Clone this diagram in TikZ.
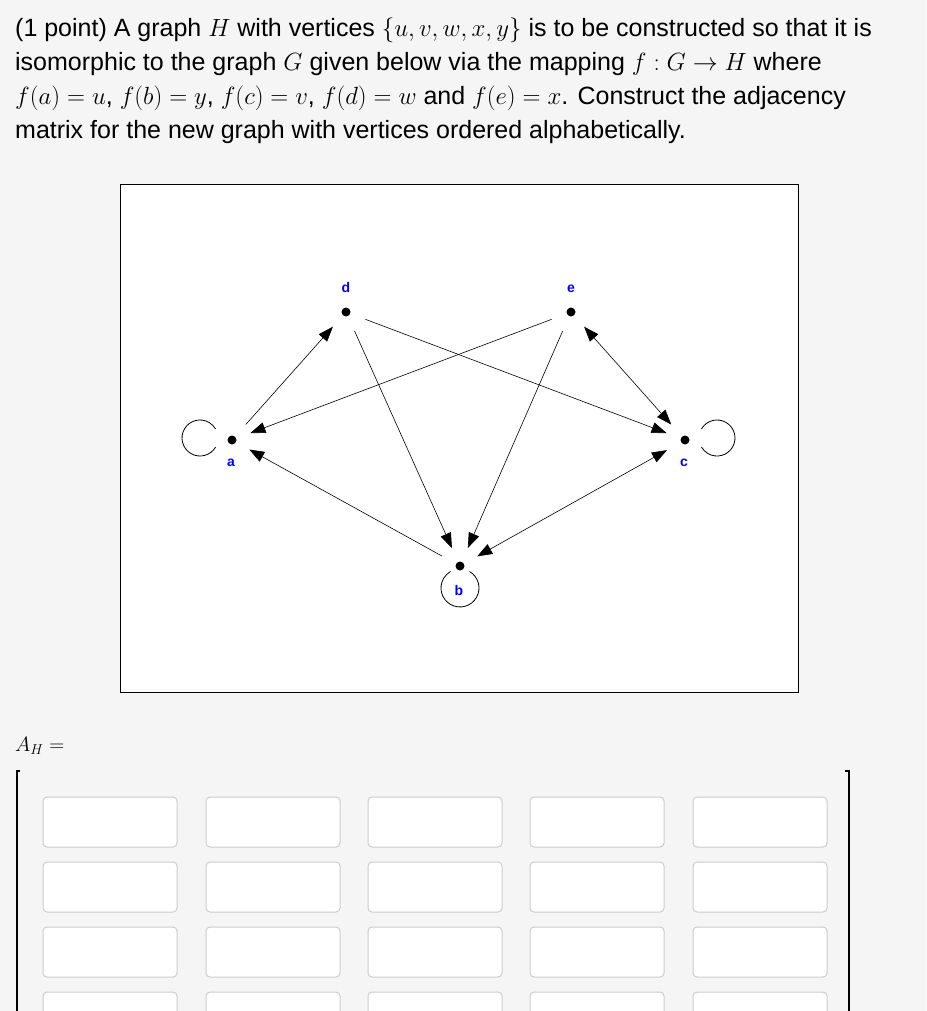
\documentclass[tikz,border=0pt]{standalone}
\usepackage{fontspec}
\setmainfont{Liberation Sans}
\usetikzlibrary{arrows.meta}
\begin{document}
\begin{tikzpicture}[x=1pt,y=-1pt,
  vtx/.style={circle,fill=black,inner sep=0pt,minimum size=9pt},
  lbl/.style={text=blue,font=\fontsize{14}{15}\selectfont\bfseries},
  edge/.style={draw,line width=0.6pt,-{Triangle[length=15pt,width=11pt]},shorten >=15pt,shorten <=16pt},
  both/.style={edge,{Triangle[length=15pt,width=11pt]}-{Triangle[length=15pt,width=11pt]}},
  txt/.style={anchor=west,inner sep=0pt,font=\fontsize{25}{28}\selectfont},
  cell/.style={draw=black!20,fill=white,rounded corners=4pt,line width=1pt,minimum width=134pt,minimum height=50pt,inner sep=0pt}]
\fill[black!4] (0,0) rectangle (926,1011);
\useasboundingbox (0,0) rectangle (926,1011);
\node[txt] (l1) at (15,30) {(1 point) A graph $H$ with vertices $\{u,v,w,x,y\}$ is to be constructed so that it is};
\node[txt] (l2) at (15,64) {isomorphic to the graph $G$ given below via the mapping $f:G\to H$ where};
\node[txt] (l3) at (15,98) {$f(a)=u$, $f(b)=y$, $f(c)=v$, $f(d)=w$ and $f(e)=x$. Construct the adjacency};
\node[txt] (l4) at (15,132) {matrix for the new graph with vertices ordered alphabetically.};
\draw[fill=white,line width=1pt] (120,185) rectangle (798,692);
\node[vtx] (a) at (232,440) {};
\node[vtx] (b) at (460,566) {};
\node[vtx] (c) at (685,440) {};
\node[vtx] (d) at (346,312) {};
\node[vtx] (e) at (571,312) {};
\node[lbl] (la) at (231,463) {a};
\node[lbl] (lb) at (459,590) {b};
\node[lbl] (lc) at (684,463) {c};
\node[lbl] (ld) at (346,287) {d};
\node[lbl] (le) at (571,289) {e};
\draw[edge] (a) -- (d);
\draw[edge] (e) -- (a);
\draw[edge] (d) -- (c);
\draw[edge] (d) -- (b);
\draw[edge] (e) -- (b);
\draw[edge] (b) -- (a);
\draw[both] (c) -- (e);
\draw[both] (c) -- (b);
\draw[line width=0.8pt] (a) ++(-16.4,7) arc[start angle=30,end angle=330,radius=18];
\draw[line width=0.8pt] (c) ++(16.4,-11) arc[start angle=-150,end angle=150,radius=18];
\draw[line width=0.8pt] (b) ++(9.5,5.5) arc[start angle=300,end angle=600,radius=19];
\node[anchor=west,inner sep=0pt,font=\fontsize{22}{24}\selectfont] (ah) at (15,746) {$A_H=$};
\draw[line width=1.4pt] (20,771) -- (17,771) -- (17,1011);
\draw[line width=1.4pt] (845,771) -- (849,771) -- (849,1011);
\foreach \r/\y in {1/822,2/887,3/952,4/1017}
  \foreach \c/\x in {1/110,2/273,3/435,4/597,5/760}
    \node[cell] (m\r\c) at (\x,\y) {};
\end{tikzpicture}
\end{document}
